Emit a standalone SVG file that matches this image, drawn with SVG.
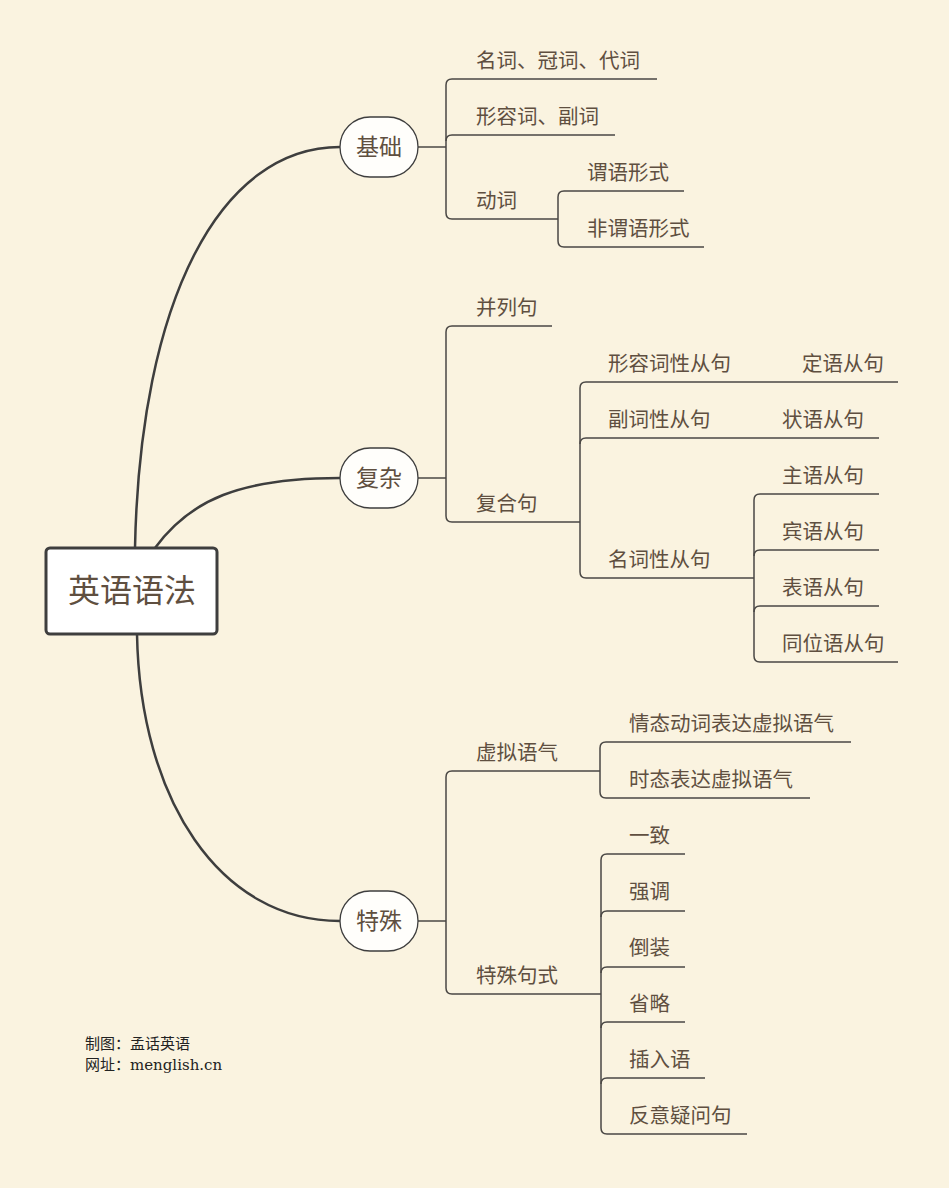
<svg xmlns="http://www.w3.org/2000/svg" width="949" height="1188" viewBox="0 0 949 1188">
<style>
.t{font-family:"Noto Sans CJK SC","Noto Sans",sans-serif;font-size:20.5px;fill:#5f4f40}
.s{font-family:"Noto Sans CJK SC","Noto Sans",sans-serif;font-size:23px;fill:#5f4f40;text-anchor:middle}
.r{font-family:"Noto Sans CJK SC","Noto Sans",sans-serif;font-size:32px;fill:#5f4f40;text-anchor:middle}
.f{font-family:"DejaVu Serif","Noto Sans CJK SC",serif;font-size:15px;fill:#222}
.ln{fill:none;stroke:#4a4744;stroke-width:1.5}
.mc{fill:none;stroke:#3e3e3e;stroke-width:2.5}
.sub{fill:#fffefb;stroke:#3e3e3e;stroke-width:1.3}
</style>
<rect x="0" y="0" width="949" height="1188" fill="#faf3e0"/>
<g id="connectors">
<path class="mc" d="M135,548 C140,300 220,147 340,147"/>
<path class="mc" d="M155,548 C190,500 240,478 340,478"/>
<path class="mc" d="M137,634 C140,800 220,921 340,921"/>
<path class="ln" d="M418,147 L446,147"/>
<path class="ln" d="M657,79 L452,79 Q446,79 446,85 L446,213 Q446,219 452,219 L558,219"/>
<path class="ln" d="M446,141 Q446,135 452,135 L615,135"/>
<path class="ln" d="M684,191 L564,191 Q558,191 558,197 L558,241 Q558,247 564,247 L704,247"/>
<path class="ln" d="M418,478 L446,478"/>
<path class="ln" d="M552,326 L452,326 Q446,326 446,332 L446,516 Q446,522 452,522 L580,522"/>
<path class="ln" d="M898,382 L586,382 Q580,382 580,388 L580,572 Q580,578 586,578 L754,578"/>
<path class="ln" d="M580,444 Q580,438 586,438 L879,438"/>
<path class="ln" d="M879,494 L760,494 Q754,494 754,500 L754,656 Q754,662 760,662 L898,662"/>
<path class="ln" d="M754,556 Q754,550 760,550 L879,550"/>
<path class="ln" d="M754,612 Q754,606 760,606 L879,606"/>
<path class="ln" d="M418,921 L446,921"/>
<path class="ln" d="M600,771 L452,771 Q446,771 446,777 L446,988 Q446,994 452,994 L601,994"/>
<path class="ln" d="M851,742 L606,742 Q600,742 600,748 L600,792 Q600,798 606,798 L810,798"/>
<path class="ln" d="M685,854 L607,854 Q601,854 601,860 L601,1128 Q601,1134 607,1134 L747,1134"/>
<path class="ln" d="M601,917 Q601,911 607,911 L685,911"/>
<path class="ln" d="M601,973 Q601,967 607,967 L685,967"/>
<path class="ln" d="M601,1028 Q601,1022 607,1022 L685,1022"/>
<path class="ln" d="M601,1084 Q601,1078 607,1078 L705,1078"/>
</g>
<g id="root"><rect x="46" y="548" width="171" height="86" rx="4" fill="#ffffff" stroke="#3e3e3e" stroke-width="3"/><text class="r" x="132" y="602">英语语法</text></g>
<g id="n-jichu"><rect class="sub" x="340" y="117" width="78" height="60" rx="30"/><text class="s" x="379" y="155">基础</text></g>
<g id="n-fuza"><rect class="sub" x="340" y="448" width="78" height="60" rx="30"/><text class="s" x="379" y="486">复杂</text></g>
<g id="n-teshu"><rect class="sub" x="340" y="891" width="78" height="60" rx="30"/><text class="s" x="379" y="929">特殊</text></g>
<g id="n1"><text class="t" x="476" y="68">名词、冠词、代词</text></g>
<g id="n2"><text class="t" x="476" y="124">形容词、副词</text></g>
<g id="n3"><text class="t" x="476" y="208">动词</text></g>
<g id="n4"><text class="t" x="587" y="180">谓语形式</text></g>
<g id="n5"><text class="t" x="587" y="236">非谓语形式</text></g>
<g id="n6"><text class="t" x="476" y="315">并列句</text></g>
<g id="n7"><text class="t" x="476" y="511">复合句</text></g>
<g id="n8"><text class="t" x="608" y="371">形容词性从句</text></g>
<g id="n9"><text class="t" x="802" y="371">定语从句</text></g>
<g id="n10"><text class="t" x="608" y="427">副词性从句</text></g>
<g id="n11"><text class="t" x="782" y="427">状语从句</text></g>
<g id="n12"><text class="t" x="608" y="567">名词性从句</text></g>
<g id="n13"><text class="t" x="782" y="483">主语从句</text></g>
<g id="n14"><text class="t" x="782" y="539">宾语从句</text></g>
<g id="n15"><text class="t" x="782" y="595">表语从句</text></g>
<g id="n16"><text class="t" x="782" y="651">同位语从句</text></g>
<g id="n17"><text class="t" x="476" y="760">虚拟语气</text></g>
<g id="n18"><text class="t" x="629" y="731">情态动词表达虚拟语气</text></g>
<g id="n19"><text class="t" x="629" y="787">时态表达虚拟语气</text></g>
<g id="n20"><text class="t" x="476" y="983">特殊句式</text></g>
<g id="n21"><text class="t" x="629" y="843">一致</text></g>
<g id="n22"><text class="t" x="629" y="899">强调</text></g>
<g id="n23"><text class="t" x="629" y="955">倒装</text></g>
<g id="n24"><text class="t" x="629" y="1011">省略</text></g>
<g id="n25"><text class="t" x="629" y="1067">插入语</text></g>
<g id="n26"><text class="t" x="629" y="1123">反意疑问句</text></g>
<g id="footer"><text class="f" x="85" y="1049">制图：孟话英语</text><text class="f" x="85" y="1070">网址：menglish.cn</text></g>
</svg>
